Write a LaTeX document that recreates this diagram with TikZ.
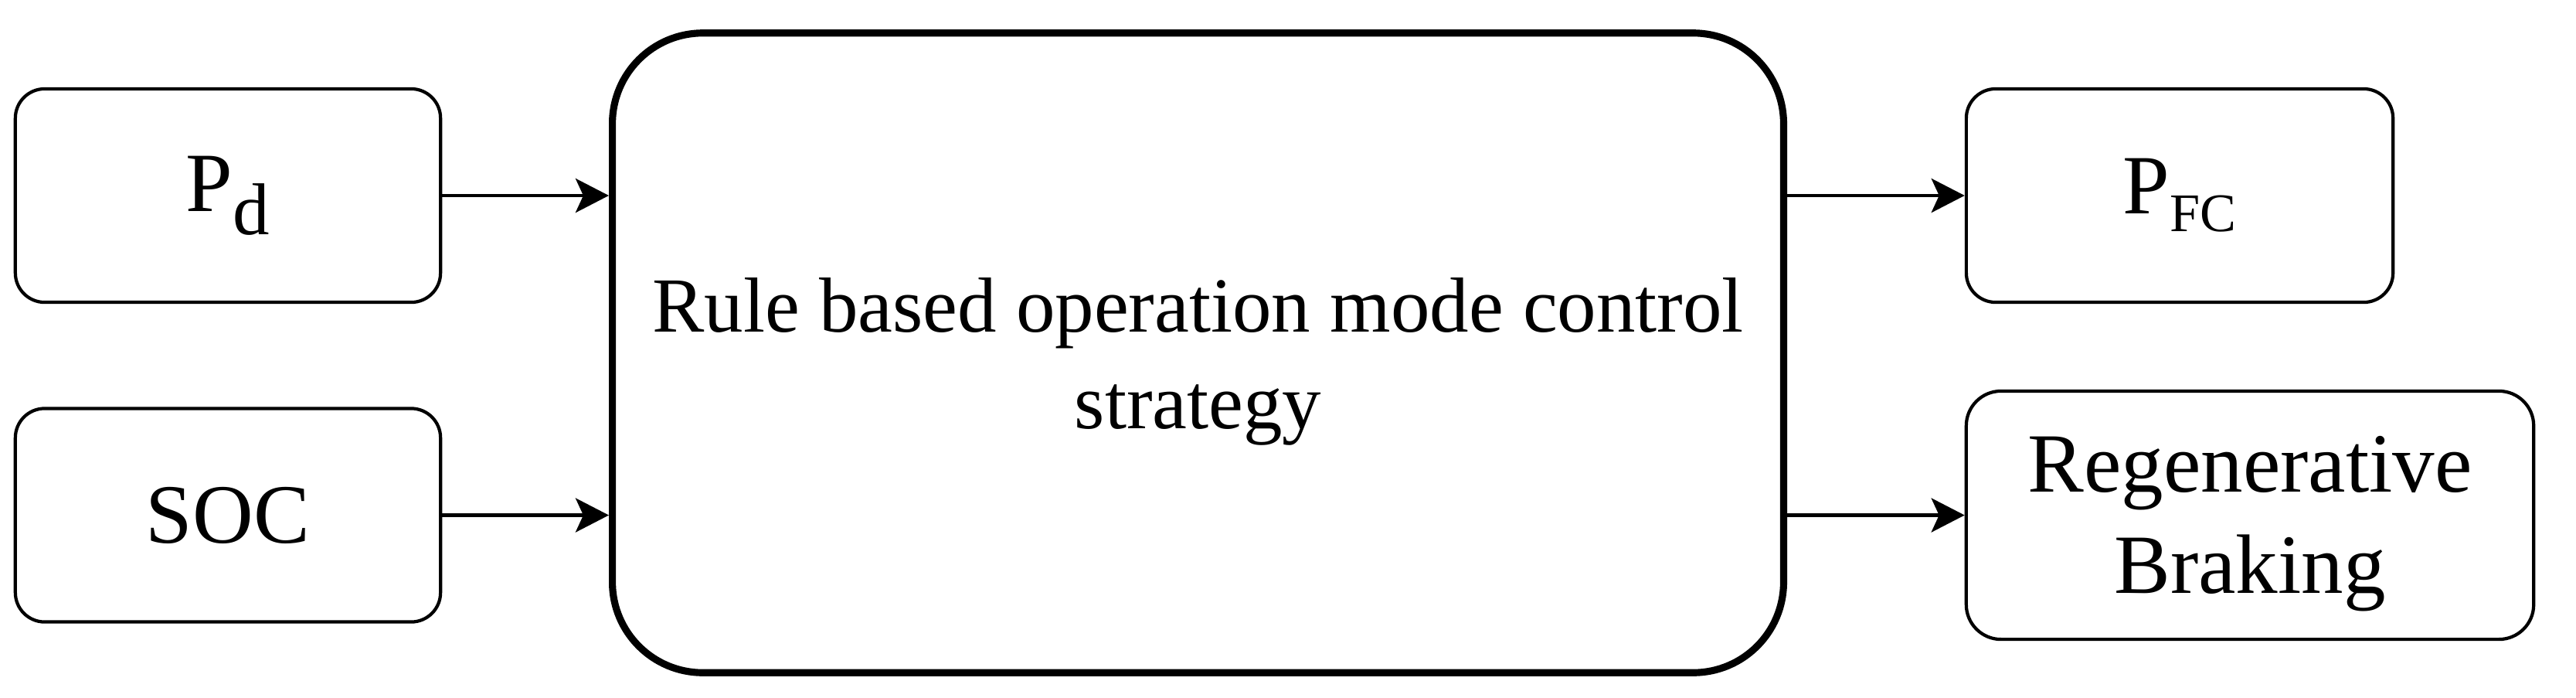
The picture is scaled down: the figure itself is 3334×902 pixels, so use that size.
\documentclass[tikz,border=0pt]{standalone}
\usepackage{fontspec}
\setmainfont{Liberation Serif}
\usetikzlibrary{arrows.meta}
\begin{document}
\begin{tikzpicture}[x=0.01cm, y=-0.01cm,
  smallbox/.style={draw, line width=1.2pt, rounded corners=0.38cm,
    minimum width=5.5cm, minimum height=2.76cm, inner sep=0pt,
    font=\fontsize{31}{37}\selectfont, align=center},
  regbox/.style={smallbox, rounded corners=0.45cm,
    minimum width=7.34cm, minimum height=3.21cm},
  bigbox/.style={draw, line width=2.6pt, rounded corners=1.17cm,
    minimum width=15.15cm, minimum height=8.27cm, inner sep=0pt,
    font=\fontsize{28.7}{35.5}\selectfont, align=center},
  arrow/.style={-{Stealth[length=0.43cm, width=0.44cm, inset=0.1cm]}, line width=1.3pt}]
\useasboundingbox (0,0) rectangle (3334,902);
\node[smallbox] (pd) at (295,253) {P\raisebox{-0.3cm}{\fontsize{27}{27}\selectfont d}};
\node[smallbox] (soc) at (295,666.5) {SOC};
\node[bigbox, text height=2.17cm, text depth=0.22cm] (strat) at (1550.5,456.5)
  {Rule based operation mode control\\strategy};
\node[smallbox, minimum width=5.52cm] (pfc) at (2821,253)
  {P\raisebox{-0.23cm}{\fontsize{20}{20}\selectfont FC}};
\node[regbox, text height=2.25cm, text depth=0.24cm] (regen) at (2912,666.5)
  {Regenerative\\Braking};
\draw[arrow] (pd.east) -- (pd.east -| strat.west);
\draw[arrow] (soc.east) -- (soc.east -| strat.west);
\draw[arrow] (strat.east |- pfc.west) -- (pfc.west);
\draw[arrow] (strat.east |- regen.west) -- (regen.west);
\end{tikzpicture}
\end{document}
